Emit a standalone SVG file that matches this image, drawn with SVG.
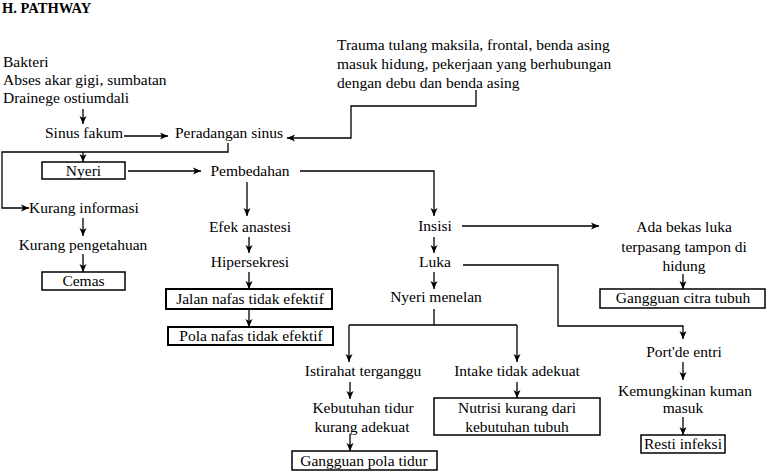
<svg xmlns="http://www.w3.org/2000/svg" width="768" height="472" viewBox="0 0 768 472">
<defs>
<marker id="ah" markerUnits="userSpaceOnUse" markerWidth="10" markerHeight="10" viewBox="0 0 10 10" refX="9" refY="5" orient="auto">
<path d="M1,1.5 L9,5 L1,8.5 L3,5 Z" fill="#000"/>
</marker>
</defs>
<style>
text{font-family:'Liberation Serif','Times New Roman','DejaVu Serif',serif;font-size:15.5px;fill:#000}
.c{text-anchor:middle}
.t{font-weight:bold;font-size:14.5px}
.b{fill:#fff;stroke:#000;stroke-width:1.5}
.bb{fill:#fff;stroke:#000;stroke-width:2}
#connectors path{fill:none;stroke:#000;stroke-width:1.3}
.a{marker-end:url(#ah)}
</style>
<rect width="768" height="472" fill="#fff"/>
<text class="t" x="2" y="13">H.  PATHWAY</text>
<g id="connectors">
<path class="a" d="M83,109 V124"/>
<path class="a" d="M124,136 H168"/>
<path class="a" d="M476,90 V106 H351 V138 H287"/>
<path class="a" d="M228,143 V152 H2 V208 H29"/>
<path class="a" d="M83,152 V162"/>
<path class="a" d="M128,171 H201"/>
<path class="a" d="M247,182 V216"/>
<path class="a" d="M249,237 V253"/>
<path class="a" d="M249,272 V289"/>
<path class="a" d="M249,310 V327"/>
<path class="a" d="M83,218 V236"/>
<path class="a" d="M83,254 V272"/>
<path class="a" d="M300,171 H434 V216"/>
<path class="a" d="M434,237 V253"/>
<path class="a" d="M434,272 V289"/>
<path class="a" d="M462,226 H599"/>
<path class="a" d="M683,274 V289"/>
<path class="a" d="M463,265 H558 V326 H683 V339"/>
<path d="M434,309 V325 M349,325 H517"/>
<path class="a" d="M349,325 V362"/>
<path class="a" d="M517,325 V362"/>
<path class="a" d="M350,382 V399"/>
<path class="a" d="M517,382 V398"/>
<path class="a" d="M350,434 V451"/>
<path class="a" d="M683,362 V380"/>
<path class="a" d="M683,417 V435"/>
</g>
<g id="n-sebab"><text x="3" y="67">Bakteri</text><text x="3" y="85">Abses akar gigi, sumbatan</text><text x="3" y="103">Drainege ostiumdali</text></g>
<g id="n-trauma"><text x="337" y="50">Trauma tulang maksila, frontal, benda asing</text><text x="337" y="69">masuk hidung, pekerjaan yang berhubungan</text><text x="337" y="88">dengan debu dan benda asing</text></g>
<g id="n-sinus"><text x="45" y="138">Sinus fakum</text></g>
<g id="n-peradangan"><text x="175" y="138">Peradangan sinus</text></g>
<g id="n-nyeri"><rect class="b" x="42" y="162" width="83" height="17"/><text class="c" x="83.5" y="176">Nyeri</text></g>
<g id="n-pembedahan"><text class="c" x="250" y="176">Pembedahan</text></g>
<g id="n-kinfo"><text x="29" y="213">Kurang informasi</text></g>
<g id="n-kpeng"><text class="c" x="83" y="250">Kurang pengetahuan</text></g>
<g id="n-cemas"><rect class="b" x="42" y="272" width="83" height="18"/><text class="c" x="83.5" y="286">Cemas</text></g>
<g id="n-efek"><text class="c" x="250" y="232">Efek anastesi</text></g>
<g id="n-hiper"><text class="c" x="250" y="267">Hipersekresi</text></g>
<g id="n-jalan"><rect class="bb" x="166" y="289" width="166" height="20"/><text class="c" x="250" y="304">Jalan nafas tidak efektif</text></g>
<g id="n-pola"><rect class="bb" x="168" y="327" width="165" height="18"/><text class="c" x="251" y="341">Pola nafas tidak efektif</text></g>
<g id="n-insisi"><text class="c" x="435" y="231">Insisi</text></g>
<g id="n-luka"><text class="c" x="435" y="267">Luka</text></g>
<g id="n-nmenelan"><text class="c" x="436" y="302">Nyeri menelan</text></g>
<g id="n-bekas"><text class="c" x="684" y="232">Ada bekas luka</text><text class="c" x="684" y="252">terpasang tampon di</text><text class="c" x="684" y="271">hidung</text></g>
<g id="n-citra"><rect class="b" x="600" y="289" width="165" height="19"/><text class="c" x="683" y="303">Gangguan citra tubuh</text></g>
<g id="n-istirahat"><text class="c" x="363" y="376">Istirahat terganggu</text></g>
<g id="n-intake"><text class="c" x="517" y="376">Intake tidak adekuat</text></g>
<g id="n-kebutuhan"><text class="c" x="363" y="413">Kebutuhan tidur</text><text class="c" x="362" y="432">kurang adekuat</text></g>
<g id="n-gpola"><rect class="b" x="292" y="451" width="145" height="19"/><text class="c" x="364" y="466">Gangguan pola tidur</text></g>
<g id="n-nutrisi"><rect class="b" x="434" y="398" width="166" height="37"/><text class="c" x="517" y="413">Nutrisi kurang dari</text><text class="c" x="517" y="432">kebutuhan tubuh</text></g>
<g id="n-port"><text class="c" x="684" y="357">Port'de entri</text></g>
<g id="n-kuman"><text class="c" x="685" y="396">Kemungkinan kuman</text><text class="c" x="683" y="413">masuk</text></g>
<g id="n-resti"><rect class="b" x="641" y="435" width="84" height="18"/><text class="c" x="683" y="449">Resti infeksi</text></g>
</svg>
